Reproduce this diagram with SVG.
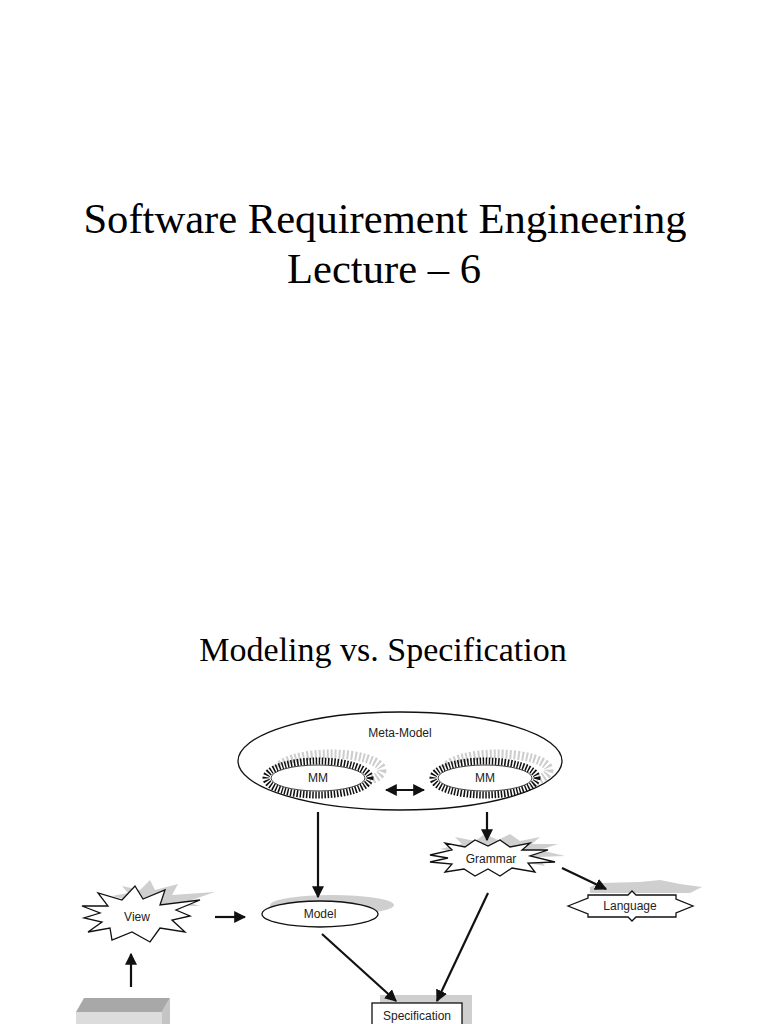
<svg xmlns="http://www.w3.org/2000/svg" width="768" height="1024" viewBox="0 0 768 1024">
<style>
.title{font-family:"Liberation Serif","Times New Roman",serif;fill:#000;text-anchor:middle}
.lbl{font-family:"Liberation Sans",Arial,sans-serif;font-size:12px;fill:#222;text-anchor:middle}
.shape{fill:#fff;stroke:#111;stroke-width:1.3}
.shadow{fill:#cfcfcf;stroke:none}
.conn{stroke:#111;stroke-width:2.2;fill:none}
</style>
<defs>
<marker id="ah" viewBox="0 0 10 10" refX="9" refY="5" markerWidth="12" markerHeight="12" markerUnits="userSpaceOnUse" orient="auto-start-reverse">
<path d="M0,0 L10,5 L0,10 Z" fill="#111"/>
</marker>
</defs>
<rect width="768" height="1024" fill="#fff"/>
<g id="title">
<text class="title" x="385" y="233" font-size="42.6">Software Requirement Engineering</text>
<text class="title" x="384" y="283" font-size="42.6">Lecture – 6</text>
</g>
<g id="subtitle">
<text class="title" x="383" y="661" font-size="34">Modeling vs. Specification</text>
</g>
<g id="meta-model">
<ellipse class="shape" cx="400" cy="761" rx="162" ry="49"/>
<text class="lbl" x="400" y="737" font-size="11">Meta-Model</text>
</g>
<g id="mm-left">
<ellipse cx="330" cy="770" rx="52" ry="16" fill="none" stroke="#cdcdcd" stroke-width="9" stroke-dasharray="2 2"/>
<ellipse cx="318" cy="778" rx="52" ry="17" fill="#fff" stroke="#111" stroke-width="7" stroke-dasharray="1.5 1.6"/>
<ellipse cx="318" cy="778" rx="47" ry="13" fill="none" stroke="#111" stroke-width="0.8"/>
<text class="lbl" x="318" y="782" font-size="11">MM</text>
</g>
<g id="mm-right">
<ellipse cx="497" cy="770" rx="52" ry="16" fill="none" stroke="#cdcdcd" stroke-width="9" stroke-dasharray="2 2"/>
<ellipse cx="485" cy="778" rx="52" ry="17" fill="#fff" stroke="#111" stroke-width="7" stroke-dasharray="1.5 1.6"/>
<ellipse cx="485" cy="778" rx="47" ry="13" fill="none" stroke="#111" stroke-width="0.8"/>
<text class="lbl" x="485" y="782" font-size="11">MM</text>
</g>
<g id="grammar">
<polygon class="shadow" points="440,849 462,844 455,837 475,841 485,834 498,840 510,834 520,841 540,837 532,844 558,844 540,850 565,856 538,857 545,866 522,862 510,870 498,863 485,870 474,863 455,866 462,858 440,856 458,852"/>
<polygon class="shape" points="430,855 452,850 445,843 465,847 475,840 488,846 500,840 510,847 530,843 522,850 548,850 530,856 555,862 528,863 535,872 512,868 500,876 488,869 475,876 464,869 445,872 452,864 430,862 448,858"/>
<text class="lbl" x="491" y="863">Grammar</text>
</g>
<g id="language">
<polygon class="shadow" points="590,887 600,883 640,882 660,880 680,884 702,887 690,893 590,893"/>
<polygon class="shape" points="568,906 588,898 588,895 628,895 632,891 636,895 676,895 676,899 693,906 676,913 676,917 636,917 632,921 628,917 588,917 588,914"/>
<text class="lbl" x="630" y="910">Language</text>
</g>
<g id="view">
<polygon class="shadow" points="112,896 128,893 122,886 140,890 150,880 155,890 178,884 172,895 215,892 186,902 200,906 150,906"/>
<polygon class="shape" points="82,906 108,906 98,893 122,900 135,886 143,899 165,890 160,905 200,900 176,910 190,916 172,920 185,932 160,928 150,942 132,932 112,940 110,928 88,932 102,922 84,918 100,913"/>
<text class="lbl" x="137" y="921">View</text>
</g>
<g id="model">
<ellipse class="shadow" cx="332" cy="905" rx="62" ry="10"/>
<ellipse class="shape" cx="320" cy="914" rx="58" ry="13"/>
<text class="lbl" x="320" y="918">Model</text>
</g>
<g id="specification">
<rect class="shadow" x="380" y="995" width="92" height="30"/>
<rect class="shape" x="372" y="1003" width="90" height="30"/>
<text class="lbl" x="417" y="1020" font-size="10">Specification</text>
</g>
<g id="source-box">
<polygon points="84,998 170,998 162,1012 76,1012" fill="#a8a8a8"/>
<polygon points="162,1012 170,998 170,1024 162,1024" fill="#c4c4c4"/>
<rect x="76" y="1012" width="86" height="12" fill="#dcdcdc"/>
</g>
<g id="connectors">
<line class="conn" x1="318" y1="812" x2="318" y2="897" marker-end="url(#ah)"/>
<line class="conn" x1="487" y1="812" x2="487" y2="840" marker-end="url(#ah)"/>
<line class="conn" x1="562" y1="868" x2="606" y2="889" marker-end="url(#ah)"/>
<line class="conn" x1="215" y1="917" x2="245" y2="917" stroke-width="4" marker-end="url(#ah)"/>
<line class="conn" x1="322" y1="934" x2="396" y2="1001" marker-end="url(#ah)"/>
<line class="conn" x1="488" y1="893" x2="437" y2="1001" marker-end="url(#ah)"/>
<line class="conn" x1="131" y1="987" x2="131" y2="954" marker-end="url(#ah)"/>
<line class="conn" x1="386" y1="790" x2="424" y2="790" stroke-width="3" marker-start="url(#ah)" marker-end="url(#ah)"/>
</g>
</svg>
